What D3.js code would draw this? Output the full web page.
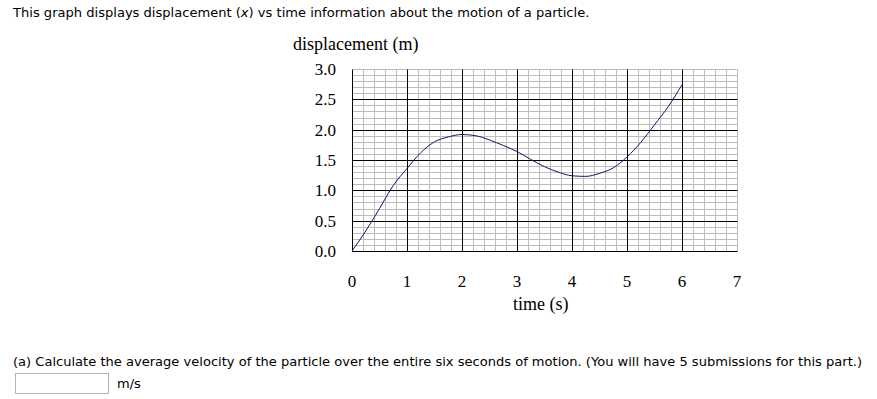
<!DOCTYPE html>
<html>
<head>
<meta charset="utf-8">
<script src="https://cdn.jsdelivr.net/npm/d3@7"></script>
<style>
  html, body { margin: 0; padding: 0; background: #fff; }
  svg { display: block; }
</style>
</head>
<body>
<div id="holder"></div>
<script>
// time (s) and displacement (m)
const times = [0, 0.25, 0.5, 0.75, 1, 1.25, 1.5, 1.75, 2, 2.25, 2.5, 2.75, 3,
  3.25, 3.5, 3.75, 4, 4.25, 4.5, 4.75, 5, 5.25, 5.5, 5.75, 6];
const displacement = [0, 0.33, 0.70, 1.08, 1.36, 1.62, 1.80, 1.88, 1.92, 1.90, 1.83, 1.74, 1.64,
  1.51, 1.39, 1.30, 1.24, 1.23, 1.28, 1.37, 1.55, 1.79, 2.08, 2.38, 2.74];
const xTicks = [0, 1, 2, 3, 4, 5, 6, 7];
const yTicks = [0, 0.5, 1, 1.5, 2, 2.5, 3];
const xMajor = [0, 1, 2, 3, 4, 5, 6];
const yMajor = [0, 0.5, 1, 1.5, 2, 2.5];

const W = 877, H = 399;
const sans = 'Verdana, "DejaVu Sans", sans-serif';
const serif = '"Times New Roman", "Liberation Serif", serif';

const svg = d3.select('#holder').append('svg')
  .attr('width', W).attr('height', H);
svg.append('rect').attr('width', W).attr('height', H).attr('fill', '#fff');

const x = d3.scaleLinear().domain([0, 7]).range([352, 737]);
const y = d3.scaleLinear().domain([0, 3]).range([251, 69]);
const px = v => Math.round(x(v)) + 0.5;
const py = v => Math.round(y(v)) + 0.5;

// fit a text line to the width it has in the picture
function fitText (sel, width) {
  let w = sel.node().getComputedTextLength();
  let fs = parseFloat(sel.attr('font-size'));
  sel.attr('font-size', fs * width / w);
}

let intro = svg.append('text').attr('x', 13).attr('y', 17)
  .attr('font-family', sans).attr('font-size', 13).attr('fill', '#000');
intro.append('tspan').text('This graph displays displacement (');
intro.append('tspan').attr('font-style', 'italic').text('x');
intro.append('tspan').text(') vs time information about the motion of a particle.');
fitText(intro, 577);

// grid
const grid = svg.append('g').attr('class', 'grid');
const minorX = d3.range(0, 35.5).map(i => i / 5);
const minorY = d3.range(0, 30.5).map(i => i / 10);
grid.selectAll('.minx').data(minorX).enter().append('line')
  .attr('class', 'minx')
  .attr('x1', d => px(d)).attr('x2', d => px(d))
  .attr('y1', py(3)).attr('y2', py(0))
  .attr('stroke', '#bdbdbd').attr('stroke-width', 1);
grid.selectAll('.miny').data(minorY).enter().append('line')
  .attr('class', 'miny')
  .attr('x1', px(0)).attr('x2', px(7))
  .attr('y1', d => py(d)).attr('y2', d => py(d))
  .attr('stroke', '#bdbdbd').attr('stroke-width', 1);
grid.selectAll('.majx').data(xMajor).enter().append('line')
  .attr('class', 'majx')
  .attr('x1', d => px(d)).attr('x2', d => px(d))
  .attr('y1', py(3)).attr('y2', py(0))
  .attr('stroke', '#000').attr('stroke-width', 1);
grid.selectAll('.majy').data(yMajor).enter().append('line')
  .attr('class', 'majy')
  .attr('x1', px(0)).attr('x2', px(7))
  .attr('y1', d => py(d)).attr('y2', d => py(d))
  .attr('stroke', '#000').attr('stroke-width', 1);

// tick labels
svg.append('g').selectAll('text').data(yTicks).enter().append('text')
  .attr('x', 336).attr('y', d => y(d) + 6)
  .attr('text-anchor', 'end')
  .attr('font-family', serif).attr('font-size', 17).attr('fill', '#000')
  .text(d => d.toFixed(1));
svg.append('g').selectAll('text').data(xTicks).enter().append('text')
  .attr('x', d => x(d)).attr('y', 287)
  .attr('text-anchor', 'middle')
  .attr('font-family', serif).attr('font-size', 17).attr('fill', '#000')
  .text(d => d);

svg.append('text').attr('x', 293).attr('y', 50)
  .attr('font-family', serif).attr('font-size', 18).attr('fill', '#000')
  .text('displacement (m)');
svg.append('text').attr('x', 513).attr('y', 310)
  .attr('font-family', serif).attr('font-size', 18).attr('fill', '#000')
  .text('time (s)');

// the motion curve
const line = d3.line()
  .x((d, i) => x(times[i]))
  .y(d => y(d))
  .curve(d3.curveMonotoneX);
svg.append('path').attr('d', line(displacement))
  .attr('fill', 'none').attr('stroke', '#14146e').attr('stroke-width', 1);

// question part
let q = svg.append('text').attr('x', 13).attr('y', 366)
  .attr('font-family', sans).attr('font-size', 13).attr('fill', '#000')
  .text('(a) Calculate the average velocity of the particle over the entire six seconds of motion. (You will have 5 submissions for this part.)');
fitText(q, 850);

svg.append('rect').attr('x', 15.5).attr('y', 373.5).attr('width', 93).attr('height', 20)
  .attr('fill', '#fff').attr('stroke', '#b4b4b4').attr('stroke-width', 1);
svg.append('text').attr('x', 117).attr('y', 388)
  .attr('font-family', sans).attr('font-size', 13).attr('fill', '#000')
  .text('m/s');
</script>
</body>
</html>
